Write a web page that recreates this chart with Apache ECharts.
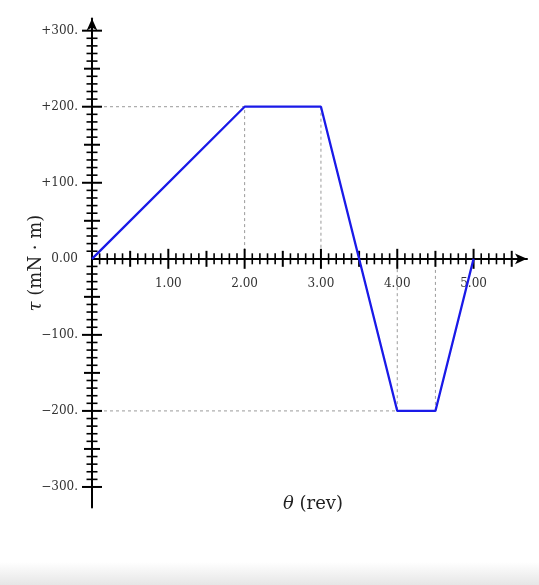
<!DOCTYPE html>
<html>
<head>
<meta charset="utf-8">
<script src="https://cdn.jsdelivr.net/npm/echarts@6/dist/echarts.min.js"></script>
<style>
html,body{margin:0;padding:0;background:#fff;}
#c{width:539px;height:585px;}
</style>
</head>
<body>
<div id="c"></div>
<script>
// Torque profile tau (mN·m) vs angle theta (rev)
const theta = [0, 2, 3, 3.5, 4, 4.5, 5];
const tau = [0, 200, 200, 0, -200, -200, 0];

// dotted guide segments (null breaks between segments)
const guideX = [0, 2, 2, null, 3, 3, null, 0, 4, 4, null, 4.5, 4.5];
const guideY = [200, 200, 0, null, 200, 0, null, -200, -200, 0, null, -200, 0];

// tick labels
const xLabelValues = [1, 2, 3, 4, 5];
const xLabelTexts = ['1.00', '2.00', '3.00', '4.00', '5.00'];
const yLabelValues = [-300, -200, -100, 0, 100, 200, 300];
const yLabelTexts = ['\u2212300.', '\u2212200.', '\u2212100.', '0.00', '+100.', '+200.', '+300.'];

// tick marks: x every 0.1 up to 5.5, y every 10 from -300 to 300
const xTickCount = 55;   // 0.1 .. 5.5
const yTickCount = 30;   // ±10 .. ±300

const ticks = [];
for (let i = 1; i <= xTickCount; i++) ticks.push([i / 10, 0, 0, i]);
for (let i = 1; i <= yTickCount; i++) {
  ticks.push([0, i * 10, 1, i]);
  ticks.push([0, -i * 10, 1, i]);
}

const serif = 'DejaVu Serif';
const X_MAX = 5.70;

const chart = echarts.init(document.getElementById('c'), null, {renderer: 'canvas'});

function lookup(vals, texts) {
  return function (v) {
    for (let i = 0; i < vals.length; i++) if (Math.abs(vals[i] - v) < 1e-6) return texts[i];
    return '';
  };
}

const nameStyle = {fontFamily: serif, fontSize: 18, color: '#222',
  rich: {i: {fontFamily: serif, fontStyle: 'italic', fontSize: 18, color: '#222'}}};

chart.setOption({
  animation: false,
  backgroundColor: '#fff',
  grid: [
    {left: 92, right: 12, top: 18.5, bottom: 77.5, containLabel: false, outerBoundsMode: 'none'},
    // upper half grid: its bottom edge sits on tau = 0, used to place the x labels there
    {left: 92, right: 12, top: 18.5, bottom: 326, containLabel: false, outerBoundsMode: 'none'}
  ],
  xAxis: [{
    gridIndex: 0, type: 'value', min: 0, max: X_MAX,
    axisLine: {onZero: true, show: true, symbol: ['none', 'arrow'], symbolSize: [8, 12],
      lineStyle: {color: '#000', width: 2}},
    axisTick: {show: false},
    splitLine: {show: false},
    axisLabel: {show: false}
  }, {
    gridIndex: 1, type: 'value', min: 0, max: X_MAX, position: 'bottom',
    axisLine: {show: false, onZero: false},
    axisTick: {show: false},
    splitLine: {show: false},
    axisLabel: {customValues: xLabelValues, formatter: lookup(xLabelValues, xLabelTexts),
      margin: 19, color: '#333', fontFamily: serif, fontSize: 12},
    name: '{i|θ} (rev)', nameLocation: 'middle', nameGap: 236, nameMoveOverlap: false,
    nameTextStyle: Object.assign({padding: [0, 0, 0, 7]}, nameStyle)
  }],
  yAxis: [{
    gridIndex: 0, type: 'value', min: -327, max: 316,
    axisLine: {onZero: true, show: true, symbol: ['none', 'arrow'], symbolSize: [8, 12],
      lineStyle: {color: '#000', width: 2}},
    axisTick: {show: false},
    splitLine: {show: false},
    axisLabel: {customValues: yLabelValues, formatter: lookup(yLabelValues, yLabelTexts),
      margin: 14, color: '#333', fontFamily: serif, fontSize: 12},
    name: '{i|τ} (mN · m)', nameLocation: 'middle', nameGap: 47, nameMoveOverlap: false,
    nameTextStyle: nameStyle
  }, {
    gridIndex: 1, type: 'value', min: 0, max: 316, show: false
  }],
  graphic: [{
    type: 'rect', left: 0, top: 562, z: -10,
    shape: {width: 539, height: 23},
    style: {fill: new echarts.graphic.LinearGradient(0, 0, 0, 1, [
      {offset: 0, color: '#ffffff'}, {offset: 1, color: '#e6e6e6'}])}
  }],
  series: [
    {
      type: 'line', data: guideX.map((x, i) => x === null ? [null, null] : [x, guideY[i]]),
      connectNulls: false, showSymbol: false, silent: true, z: 1,
      lineStyle: {color: '#9a9a9a', width: 1, type: [3, 3]}
    },
    {
      type: 'custom', data: ticks, clip: false, silent: true, z: 3,
      renderItem: function (params, api) {
        const p = api.coord([api.value(0), api.value(1)]);
        const isY = api.value(2) === 1;
        const k = api.value(3);
        const h = (k % 10 === 0) ? 10 : (k % 5 === 0) ? 8 : 5.5;
        const shape = isY ? {x1: p[0] - h, y1: p[1], x2: p[0] + h, y2: p[1]}
                          : {x1: p[0], y1: p[1] - h, x2: p[0], y2: p[1] + h};
        return {type: 'line', shape: shape, style: {stroke: '#000', lineWidth: (k % 5 === 0) ? 2 : 1.6}};
      }
    },
    {
      type: 'line', data: theta.map((t, i) => [t, tau[i]]),
      showSymbol: false, z: 5,
      lineStyle: {color: '#1a1ae8', width: 2.3}
    }
  ]
});
</script>
</body>
</html>
